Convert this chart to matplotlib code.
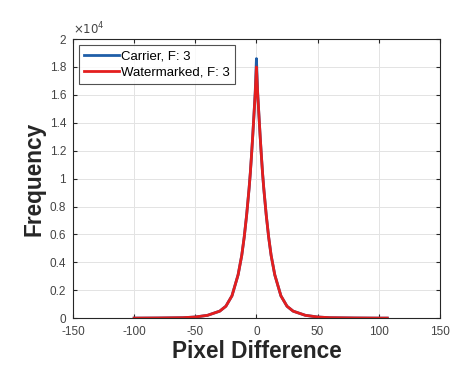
import matplotlib
matplotlib.use("Agg")
import matplotlib.pyplot as plt
from matplotlib.ticker import FuncFormatter, MultipleLocator

plt.rcParams['font.family'] = ['Liberation Sans', 'DejaVu Sans']
plt.rcParams['axes.unicode_minus'] = False

pixel_diff = [-100, -80, -60, -50, -40, -30, -25, -20, -15, -12, -10, -8, -6, -5, -4, -3, -2, -1, 0,
              1, 2, 3, 4, 5, 6, 8, 10, 12, 15, 20, 25, 30, 40, 50, 60, 80, 100, 107]
carrier = [0, 10, 30, 80, 200, 500, 850, 1600, 3100, 4500, 5800, 7400, 9300, 10400, 11700, 13100, 14600, 16200, 18600,
           16200, 14600, 13100, 11700, 10400, 9300, 7400, 5800, 4500, 3100, 1600, 850, 500, 200, 80, 30, 10, 0, 0]
watermarked = [0, 10, 30, 80, 200, 500, 850, 1600, 3100, 4500, 5800, 7400, 9300, 10400, 11700, 13100, 14600, 16100, 18000,
               16100, 14600, 13100, 11700, 10400, 9300, 7400, 5800, 4500, 3100, 1600, 850, 500, 200, 80, 30, 10, 0, 0]

fig = plt.figure(figsize=(4.74, 3.87), dpi=100)
ax = fig.add_axes([0.154, 0.178, 0.774, 0.721])

ax.plot(pixel_diff, carrier, color='#1f5ea8', lw=2, label='Carrier, F: 3')
ax.plot(pixel_diff, watermarked, color='#e41e1e', lw=2, label='Watermarked, F: 3')

ax.set_xlim(-150, 150)
ax.set_ylim(0, 20000)
ax.xaxis.set_major_locator(MultipleLocator(50))
ax.yaxis.set_major_locator(MultipleLocator(2000))
ax.yaxis.set_major_formatter(FuncFormatter(lambda v, p: f"{v/1e4:g}"))
ax.grid(True, color='#e3e3e3', lw=0.7)
ax.set_axisbelow(True)
ax.tick_params(direction='in', labelsize=8.5, colors='#262626', labelcolor='#444444',
               top=True, right=True, length=3)
ax.tick_params(axis='x', pad=6)
ax.tick_params(axis='y', pad=5)
for s in ax.spines.values():
    s.set_color('#262626')
    s.set_linewidth(0.8)

ax.text(0.0, 1.005, r'$\times10^4$', transform=ax.transAxes, fontsize=8.5, color='#444444',
        ha='left', va='bottom')

ax.set_xlabel('Pixel Difference', fontsize=16.3, fontweight='bold', color='#262626', labelpad=1)
ax.set_ylabel('Frequency', fontsize=16.3, fontweight='bold', color='#262626', labelpad=3)

leg = ax.legend(loc='upper left', fontsize=9.5, frameon=True, fancybox=False,
                edgecolor='#262626', handlelength=2.6, handletextpad=0.2,
                borderaxespad=0.45, borderpad=0.4, labelspacing=0.3)
leg.get_frame().set_linewidth(0.8)

fig.savefig('out.png', dpi=100)
